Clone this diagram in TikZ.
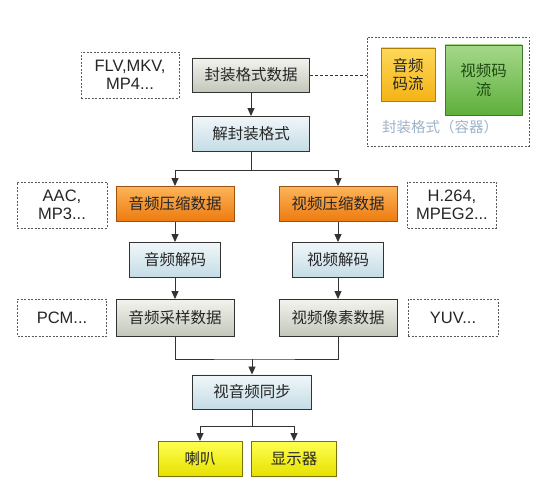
\documentclass[tikz,border=0pt]{standalone}
\usepackage{fontspec}
\setmainfont{Liberation Sans}
\newfontfamily\cjk{Noto Sans CJK SC}
\usetikzlibrary{positioning, arrows.meta}

\definecolor{lineGray}{HTML}{333333}
\definecolor{dashGray}{HTML}{5A5A5A}
\definecolor{grayTop}{HTML}{F2F3EE}
\definecolor{grayBot}{HTML}{C3C7BA}
\definecolor{blueTop}{HTML}{F0F7FA}
\definecolor{blueBot}{HTML}{C4DCE5}
\definecolor{orangeTop}{HTML}{FCB45A}
\definecolor{orangeBot}{HTML}{EE7A0E}
\definecolor{orangeLine}{HTML}{9A5410}
\definecolor{yellowTop}{HTML}{FFFF50}
\definecolor{yellowBot}{HTML}{E6E000}
\definecolor{yellowLine}{HTML}{7A7400}
\definecolor{goldTop}{HTML}{FDD85A}
\definecolor{goldBot}{HTML}{F5B316}
\definecolor{goldLine}{HTML}{B07F00}
\definecolor{greenTop}{HTML}{A5D88A}
\definecolor{greenBot}{HTML}{5FAF3C}
\definecolor{greenLine}{HTML}{3E7A2A}
\definecolor{greenText}{HTML}{1E4A12}
\definecolor{capText}{HTML}{9FB2C6}

\begin{document}
\begin{tikzpicture}[x=1pt, y=-1pt,
    box/.style={draw=lineGray, line width=0.9pt, inner sep=0pt, minimum height=35pt,
        text=black!85, font=\cjk\fontsize{15.5}{18.5}\selectfont, align=center},
    graybox/.style={box, top color=grayTop, bottom color=grayBot},
    bluebox/.style={box, top color=blueTop, bottom color=blueBot},
    orangebox/.style={box, draw=orangeLine, top color=orangeTop, bottom color=orangeBot},
    yellowbox/.style={box, draw=yellowLine, top color=yellowTop, bottom color=yellowBot},
    notebox/.style={draw=dashGray, dash pattern=on 2pt off 1.5pt, line width=0.8pt, fill=white,
        inner sep=0pt, text=black!85, font=\fontsize{16.5}{18}\selectfont, align=center},
    arr/.style={-{Triangle[length=8pt, width=7pt]}, lineGray, line width=0.9pt},
    link/.style={lineGray, line width=0.9pt}]

    \useasboundingbox (0,0) rectangle (558,500);

    % top: container data and demuxing
    \node[graybox, minimum width=117pt, minimum height=34pt] (pkg) at (251,75) {封装格式数据};
    \node[notebox, minimum width=98pt, minimum height=46pt] (fmt) at (130,75) {FLV,MKV,\\MP4...};
    \node[bluebox, minimum width=117pt] (demux) at (251,134) {解封装格式};

    % the container sketch
    \node[notebox, minimum width=162pt, minimum height=109pt] (cont) at (448,91.5) {};
    \node[box, draw=goldLine, top color=goldTop, bottom color=goldBot,
        minimum width=54pt, minimum height=53pt] (astream) at (408,74.5) {音频\\码流};
    \node[box, draw=greenLine, top color=greenTop, bottom color=greenBot, text=greenText,
        minimum width=77pt, minimum height=70pt] (vstream) at (483.5,80) {视频码\\流};
    \node[text=capText, font=\cjk\fontsize{14.5}{16}\selectfont] (contlbl) at (440,127) {封装格式（容器）};

    % compressed streams
    \node[orangebox, minimum width=118pt] (acomp) at (175,204) {音频压缩数据};
    \node[orangebox, minimum width=118pt] (vcomp) at (338,204) {视频压缩数据};
    \node[notebox, minimum width=90pt, minimum height=46pt] (acodec) at (62,205) {AAC,\\MP3...};
    \node[notebox, minimum width=89pt, minimum height=46pt] (vcodec) at (452,205) {H.264,\\MPEG2...};

    % decoders
    \node[bluebox, minimum width=91pt] (adec) at (175,260) {音频解码};
    \node[bluebox, minimum width=91pt] (vdec) at (338,260) {视频解码};

    % raw data
    \node[graybox, minimum width=118pt, minimum height=37pt] (asample) at (175,318) {音频采样数据};
    \node[graybox, minimum width=118pt, minimum height=37pt] (vsample) at (338,318) {视频像素数据};
    \node[notebox, minimum width=89pt, minimum height=37pt] (pcm) at (62,318) {PCM...};
    \node[notebox, minimum width=90pt, minimum height=37pt] (yuv) at (453,318) {YUV...};

    % sync and output
    \node[bluebox, minimum width=119pt, minimum height=34pt] (sync) at (252,392) {视音频同步};
    \node[yellowbox, minimum width=84pt] (spk) at (200,459) {喇叭};
    \node[yellowbox, minimum width=85pt] (disp) at (294,459) {显示器};

    \coordinate (split1) at (251,170);
    \coordinate (merge1) at (252,359);
    \coordinate (split2) at (252,426);

    % connectors
    \draw[link, dash pattern=on 3pt off 2pt] (pkg.east) -- (cont.west |- pkg.east);
    \draw[arr] (pkg) -- (demux);
    \draw[link] (demux) -- (split1);
    \draw[arr] (split1) -| (acomp.north);
    \draw[arr] (split1) -| (vcomp.north);
    \draw[arr] (acomp) -- (adec);
    \draw[arr] (vcomp) -- (vdec);
    \draw[arr] (adec) -- (asample);
    \draw[arr] (vdec) -- (vsample);
    \draw[link] (asample.south) |- (merge1) -| (vsample.south);
    \draw[arr] (merge1) -- (sync);
    \draw[link] (sync) -- (split2);
    \draw[arr] (split2) -| (spk.north);
    \draw[arr] (split2) -| (disp.north);
\end{tikzpicture}
\end{document}
